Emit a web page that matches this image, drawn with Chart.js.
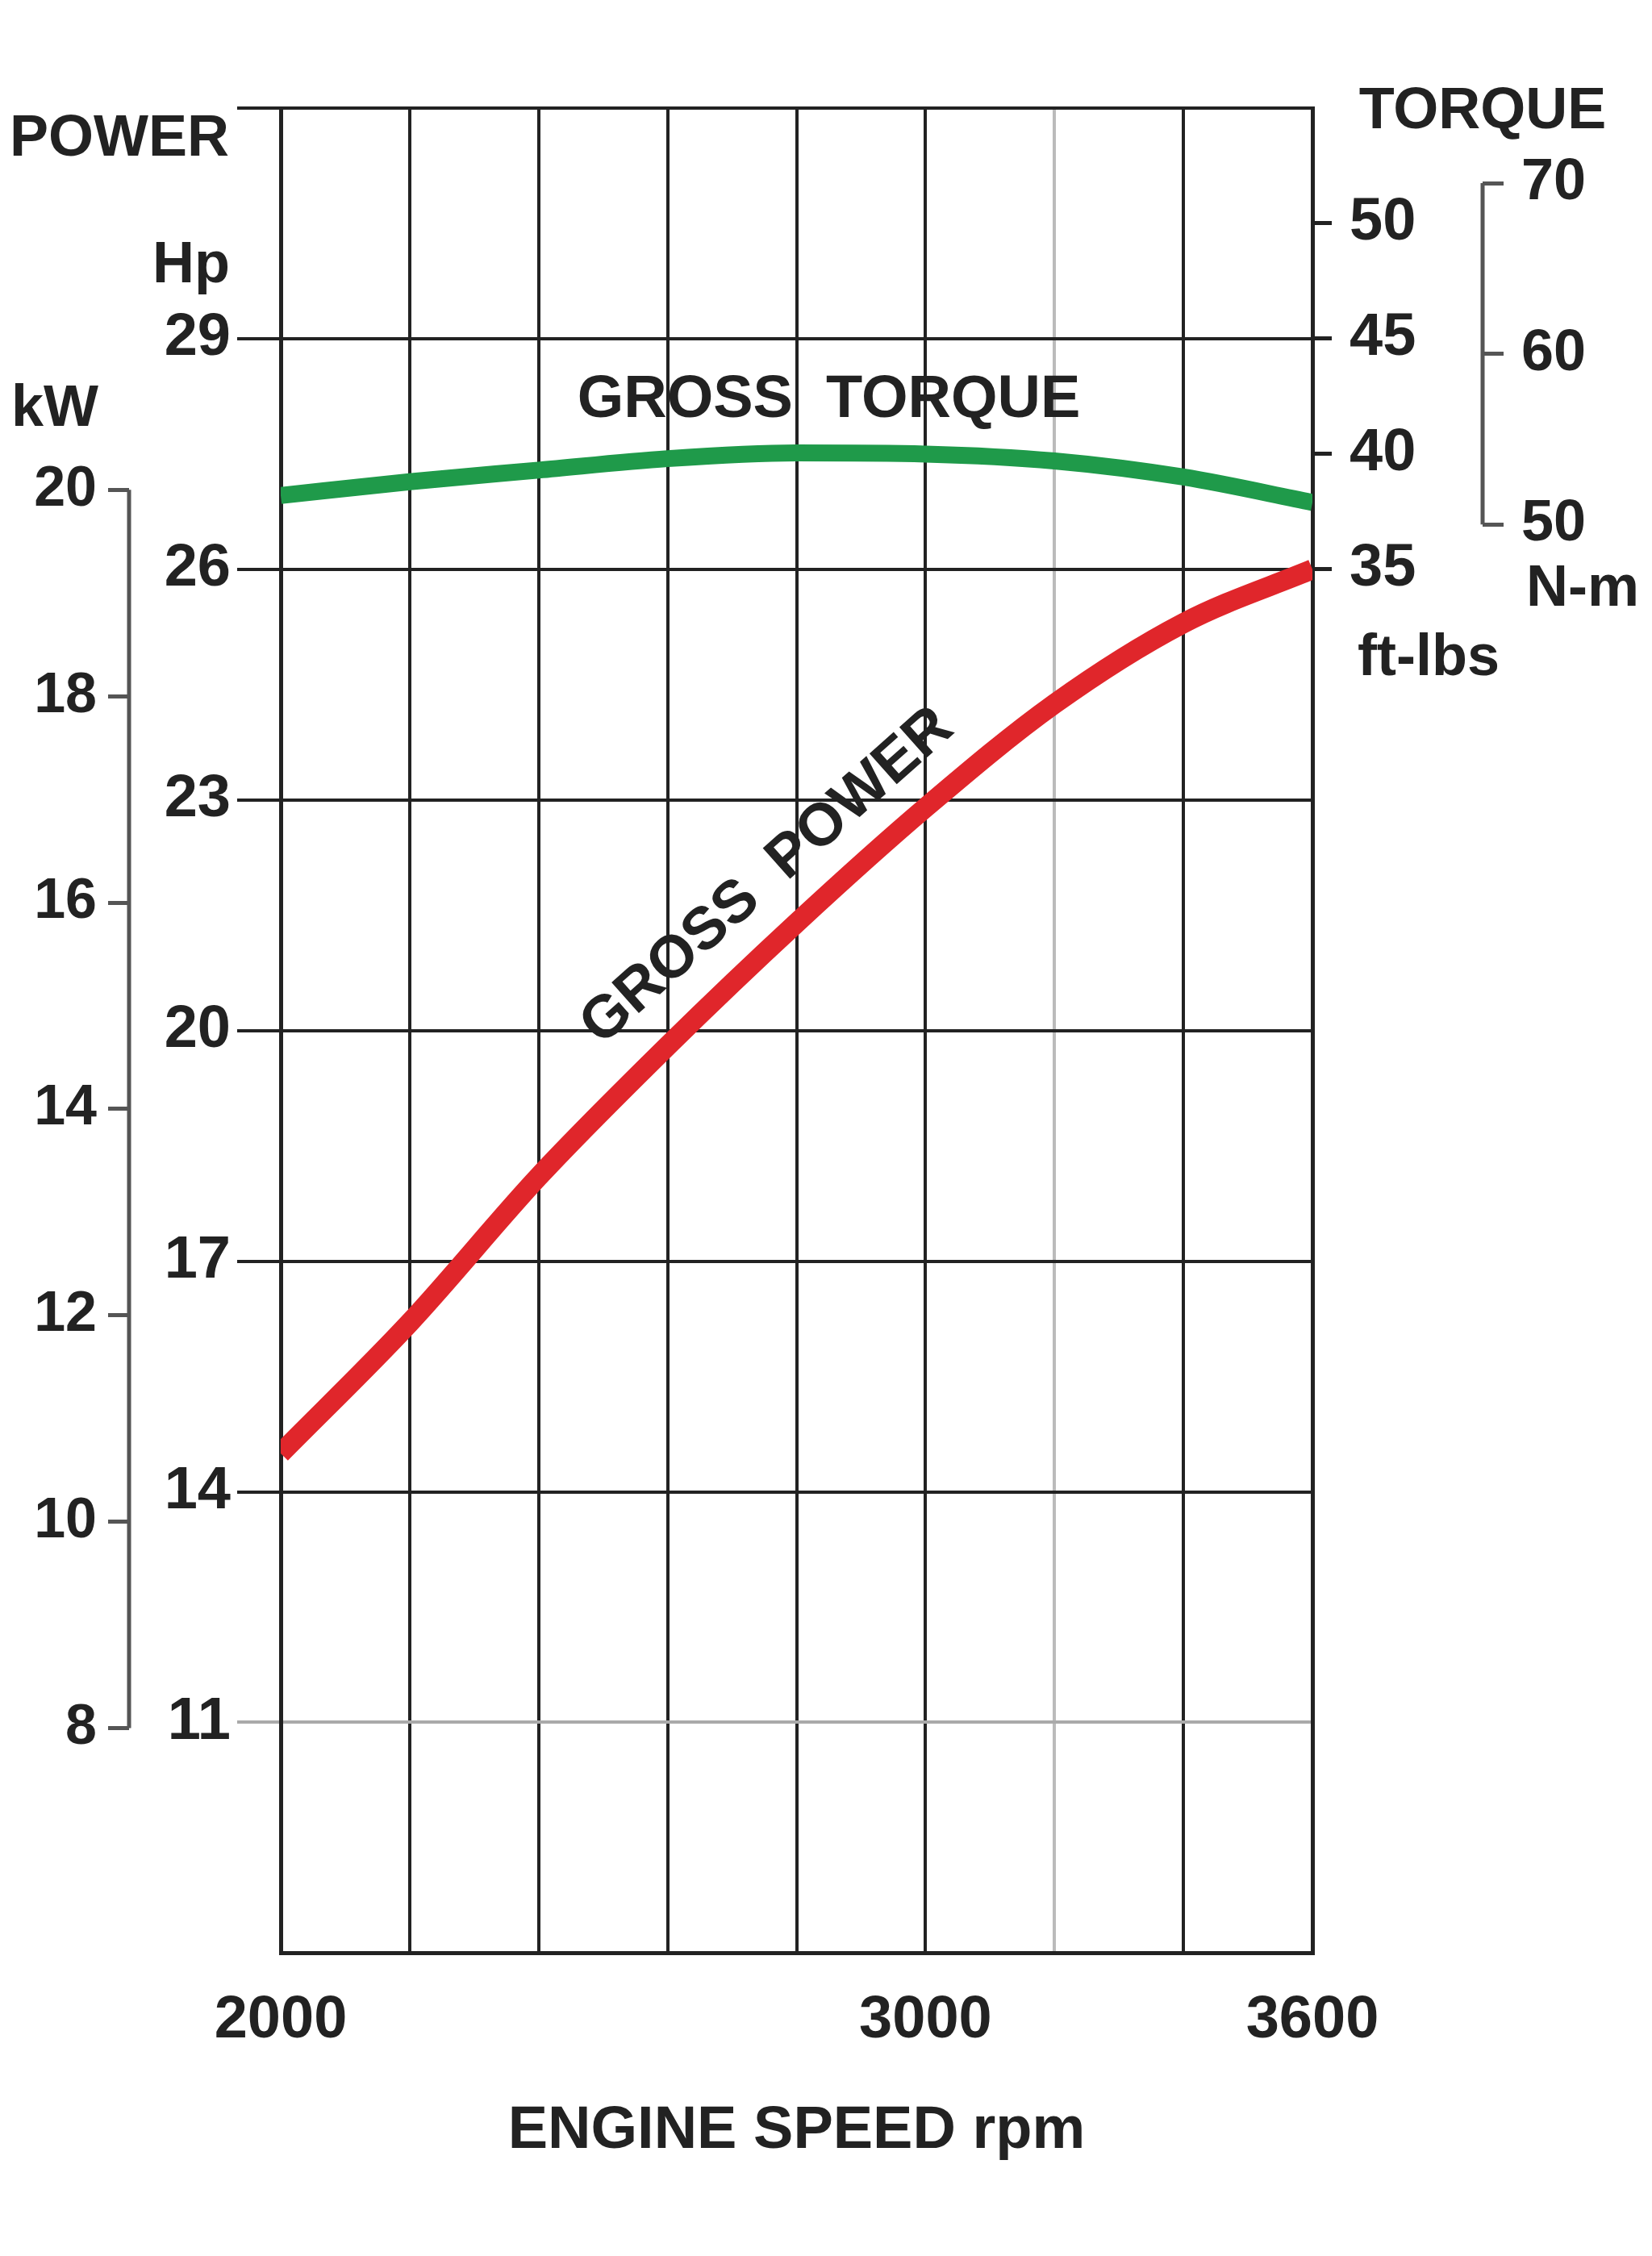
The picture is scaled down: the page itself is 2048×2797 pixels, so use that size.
<!DOCTYPE html>
<html>
<head>
<meta charset="utf-8">
<script src="https://cdn.jsdelivr.net/npm/chart.js@4/dist/chart.umd.min.js"></script>
<style>
  html, body { margin: 0; padding: 0; background: #fff; }
  #wrap { width: 2048px; height: 2797px; }
</style>
</head>
<body>
<div id="wrap"><canvas id="grafico"></canvas></div>
<script>
// dados
const rpm = [2000, 2200, 2400, 2600, 2800, 3000, 3200, 3400, 3600];
const potenciaHp = [14.5, 16.2, 18.1, 19.8, 21.4, 22.9, 24.25, 25.3, 26.0];
const torqueFtLbs = [38.2, 38.8, 39.3, 39.8, 40.05, 40.0, 39.7, 39.0, 37.9];

const ticksHp = [11, 14, 17, 20, 23, 26, 29, 32];
const ticksKw = [8, 10, 12, 14, 16, 18, 20];
const ticksFtLbs = [35, 40, 45, 50];
const ticksNm = [50, 60, 70];
const ticksRpmRotulo = [2000, 3000, 3600];

const fonte = "'Liberation Sans', Arial, sans-serif";
const escuro = "#222";

function fixarTicks(lista) {
    return scale => { scale.ticks = lista.map(v => ({ value: v })); };
}

// suportes dos eixos kW e N-m, rótulos das curvas e títulos
const extras = {
    id: "extras",
    afterDraw(chart) {
        const c = chart.ctx;
        const s = chart.scales;
        c.save();
        c.strokeStyle = "#555";
        c.lineWidth = 5;
        c.beginPath();
        c.moveTo(s.kw.right, s.kw.getPixelForValue(20));
        c.lineTo(s.kw.right, s.kw.getPixelForValue(8));
        c.moveTo(s.nm.left, s.nm.getPixelForValue(50));
        c.lineTo(s.nm.left, s.nm.getPixelForValue(70));
        c.stroke();

        c.fillStyle = escuro;
        c.font = "bold 74px " + fonte;
        c.textAlign = "center";
        c.textBaseline = "middle";
        c.fillText("GROSS  TORQUE", s.x.getPixelForValue(2850), s.hp.getPixelForValue(28.2));

        c.save();
        c.translate(s.x.getPixelForValue(2755), s.hp.getPixelForValue(22.0));
        c.rotate(-41.6 * Math.PI / 180);
        c.fillText("GROSS  POWER", 0, 0);
        c.restore();

        c.font = "bold 72px " + fonte;
        c.fillText("POWER", 148, 173);
        c.fillText("Hp", 237, 330);
        c.fillText("kW", 68, 508);
        c.fillText("TORQUE", 1838, 139);
        c.fillText("ft-lbs", 1771, 817);
        c.fillText("N-m", 1962, 731);
        c.restore();
    }
};

new Chart(document.getElementById("grafico"), {
    type: "line",
    data: {
        labels: rpm,
        datasets: [
            {
                label: "Gross Power",
                data: rpm.map((r, i) => ({ x: r, y: potenciaHp[i] })),
                yAxisID: "hp",
                borderColor: "#e0262b",
                borderWidth: 25,
                pointRadius: 0,
                cubicInterpolationMode: "monotone",
                borderCapStyle: "butt"
            },
            {
                label: "Gross Torque",
                data: rpm.map((r, i) => ({ x: r, y: torqueFtLbs[i] })),
                yAxisID: "torque",
                borderColor: "#1f9a4a",
                borderWidth: 21,
                pointRadius: 0,
                cubicInterpolationMode: "monotone",
                borderCapStyle: "butt"
            }
        ]
    },
    options: {
        responsive: true,
        maintainAspectRatio: false,
        animation: false,
        layout: { padding: { top: 134, bottom: 110, left: 0, right: 0 } },
        plugins: { legend: { display: false }, tooltip: { enabled: false } },
        scales: {
            x: {
                type: "linear",
                min: 2000,
                max: 3600,
                afterBuildTicks: fixarTicks(rpm),
                ticks: {
                    color: escuro,
                    font: { family: fonte, size: 74, weight: "bold" },
                    padding: 40,
                    maxRotation: 0,
                    autoSkip: false,
                    callback: v => ticksRpmRotulo.includes(v) ? v : ""
                },
                grid: {
                    color: ctx => ctx.tick && ctx.tick.value === 3200 ? "#bbb" : escuro,
                    lineWidth: 4,
                    drawTicks: false
                },
                border: { color: escuro, width: 5 },
                title: {
                    display: true,
                    text: "ENGINE SPEED rpm",
                    color: escuro,
                    font: { family: fonte, size: 74, weight: "bold" },
                    padding: { top: 8, bottom: 0 }
                }
            },
            hp: {
                position: "left",
                weight: 0,
                min: 8,
                max: 32,
                afterBuildTicks: fixarTicks(ticksHp),
                afterFit: scale => { scale.width = 188; },
                ticks: {
                    color: escuro,
                    font: { family: fonte, size: 74, weight: "bold" },
                    padding: 8,
                    callback: v => v === 32 ? "" : v
                },
                grid: {
                    color: ctx => ctx.tick && ctx.tick.value === 11 ? "#aaa" : escuro,
                    lineWidth: 4,
                    tickLength: 54
                },
                border: { color: escuro, width: 5 }
            },
            kw: {
                position: "left",
                weight: 1,
                min: 5.82,
                max: 23.7,
                afterBuildTicks: fixarTicks(ticksKw),
                afterFit: scale => { scale.width = 160; },
                ticks: {
                    color: escuro,
                    font: { family: fonte, size: 70, weight: "bold" },
                    padding: 14
                },
                grid: { drawOnChartArea: false, color: "#555", lineWidth: 5, tickLength: 26 },
                border: { display: false }
            },
            torque: {
                position: "right",
                weight: 0,
                min: -25,
                max: 55,
                afterBuildTicks: fixarTicks(ticksFtLbs),
                afterFit: scale => { scale.width = 211; },
                ticks: {
                    color: escuro,
                    font: { family: fonte, size: 74, weight: "bold" },
                    padding: 22
                },
                grid: { drawOnChartArea: false, color: escuro, lineWidth: 5, tickLength: 24 },
                border: { color: escuro, width: 5 }
            },
            nm: {
                position: "right",
                weight: 1,
                min: -33.7,
                max: 74.4,
                afterBuildTicks: fixarTicks(ticksNm),
                afterFit: scale => { scale.width = 210; },
                ticks: {
                    color: escuro,
                    font: { family: fonte, size: 72, weight: "bold" },
                    padding: 22
                },
                grid: { drawOnChartArea: false, color: "#555", lineWidth: 5, tickLength: 26 },
                border: { display: false }
            }
        }
    },
    plugins: [extras]
});
</script>
</body>
</html>
